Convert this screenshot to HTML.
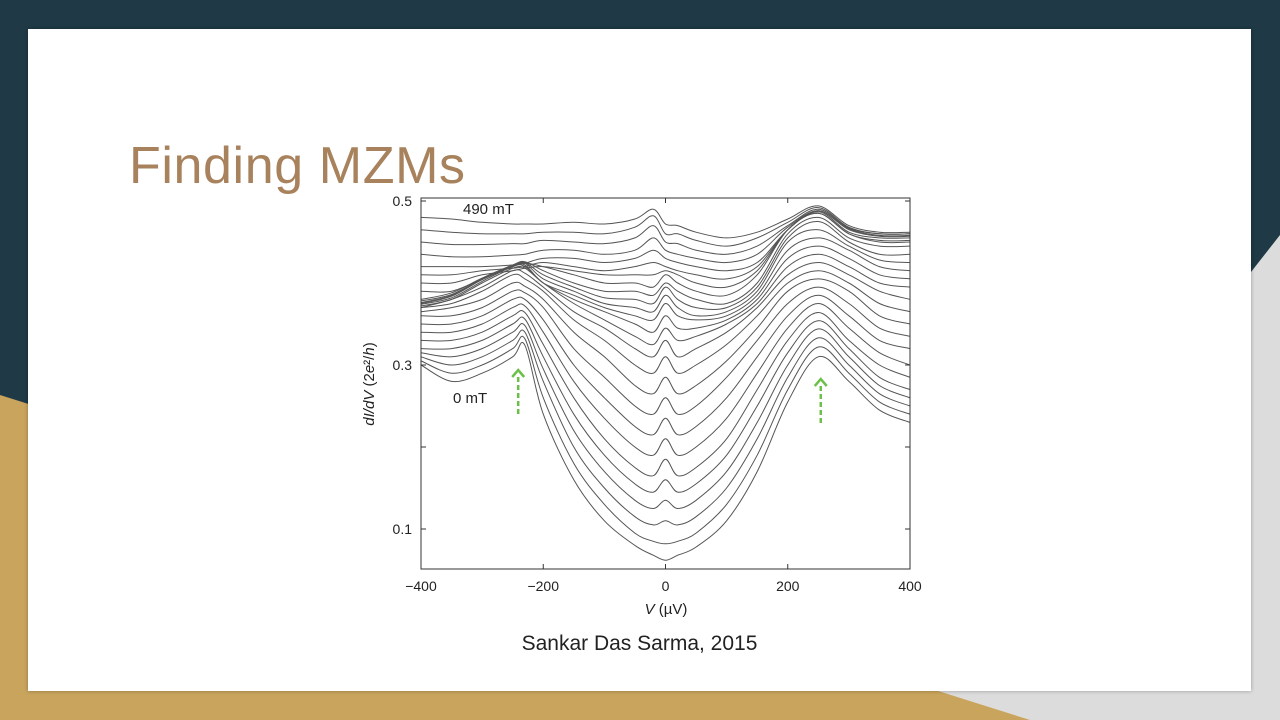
<!DOCTYPE html>
<html><head><meta charset="utf-8"><style>
html,body{margin:0;padding:0;width:1280px;height:720px;overflow:hidden;background:#1f3a46;font-family:"Liberation Sans",sans-serif}
#bg{position:absolute;left:0;top:0}
#card{position:absolute;left:28px;top:29px;width:1223px;height:662px;background:#fff;box-shadow:0 0 4px rgba(0,0,0,.3)}
#title{position:absolute;left:101px;top:107px;font-size:52px;color:#a8825c;letter-spacing:0.6px}
#caption{position:absolute;left:0;width:1223px;top:603px;text-align:center;font-size:21px;color:#222}
#chart{position:absolute;left:0;top:0}
</style></head><body>
<svg id="bg" width="1280" height="720">
<polygon points="1280,235 1280,720 900,720" fill="#dcdcdc"/>
<polygon points="0,395 1030,720 0,720" fill="#c9a45c"/>
</svg>
<div id="card">
<div id="title">Finding MZMs</div>
<div id="caption">Sankar Das Sarma, 2015</div>
</div>
<svg id="chart" width="1280" height="720"></svg>
<script>
const xValues=[-400,-350,-300,-250,-230,-200,-150,-100,-50,-20,0,20,50,100,150,200,250,300,350,400];
const xTicks=[-400,-200,0,200,400];
const yTicks=[0.5,0.3,0.1];
const yMinorTicks=[0.2];
const curve00=[0.30,0.28,0.29,0.31,0.324,0.24,0.16,0.11,0.08,0.068,0.062,0.068,0.078,0.11,0.17,0.255,0.31,0.28,0.245,0.23];
const curve01=[0.305,0.29,0.30,0.32,0.332,0.26,0.18,0.13,0.095,0.085,0.082,0.085,0.095,0.13,0.19,0.27,0.322,0.29,0.255,0.24];
const curve02=[0.31,0.30,0.31,0.33,0.34,0.28,0.20,0.15,0.115,0.105,0.11,0.105,0.115,0.15,0.21,0.285,0.333,0.30,0.265,0.25];
const curve03=[0.315,0.31,0.32,0.34,0.348,0.295,0.22,0.17,0.135,0.125,0.135,0.125,0.135,0.17,0.23,0.30,0.344,0.31,0.275,0.26];
const curve04=[0.32,0.32,0.33,0.35,0.356,0.31,0.24,0.19,0.155,0.145,0.16,0.145,0.155,0.19,0.25,0.315,0.354,0.32,0.285,0.27];
const curve05=[0.33,0.33,0.34,0.36,0.364,0.325,0.26,0.21,0.175,0.165,0.185,0.165,0.175,0.21,0.27,0.33,0.364,0.33,0.30,0.285];
const curve06=[0.34,0.34,0.35,0.37,0.372,0.34,0.28,0.235,0.20,0.19,0.21,0.19,0.20,0.235,0.29,0.345,0.375,0.345,0.315,0.30];
const curve07=[0.35,0.35,0.36,0.38,0.38,0.355,0.30,0.26,0.225,0.215,0.235,0.215,0.225,0.26,0.31,0.36,0.385,0.36,0.33,0.32];
const curve08=[0.36,0.36,0.37,0.39,0.388,0.37,0.32,0.285,0.25,0.24,0.26,0.24,0.25,0.285,0.33,0.375,0.395,0.375,0.345,0.335];
const curve09=[0.365,0.37,0.38,0.40,0.396,0.38,0.34,0.31,0.275,0.265,0.285,0.265,0.275,0.305,0.345,0.39,0.405,0.39,0.36,0.35];
const curve10=[0.37,0.375,0.39,0.41,0.405,0.39,0.355,0.33,0.30,0.29,0.31,0.29,0.30,0.325,0.36,0.40,0.415,0.40,0.375,0.365];
const curve11=[0.37,0.38,0.395,0.415,0.412,0.395,0.365,0.345,0.32,0.31,0.33,0.31,0.32,0.34,0.37,0.41,0.425,0.41,0.39,0.38];
const curve12=[0.372,0.38,0.40,0.418,0.418,0.40,0.375,0.355,0.335,0.325,0.345,0.33,0.335,0.35,0.375,0.42,0.435,0.42,0.40,0.395];
const curve13=[0.374,0.382,0.402,0.42,0.42,0.40,0.38,0.365,0.35,0.34,0.36,0.345,0.345,0.355,0.38,0.43,0.445,0.43,0.41,0.405];
const curve14=[0.375,0.384,0.404,0.42,0.422,0.40,0.385,0.37,0.36,0.355,0.375,0.36,0.355,0.36,0.385,0.44,0.455,0.44,0.42,0.415];
const curve15=[0.376,0.385,0.405,0.42,0.424,0.405,0.39,0.375,0.37,0.365,0.385,0.37,0.36,0.365,0.39,0.45,0.465,0.445,0.428,0.425];
const curve16=[0.378,0.386,0.405,0.421,0.425,0.41,0.395,0.382,0.38,0.375,0.395,0.38,0.37,0.37,0.395,0.455,0.475,0.45,0.435,0.435];
const curve17=[0.38,0.388,0.406,0.422,0.426,0.415,0.40,0.39,0.39,0.385,0.40,0.39,0.38,0.375,0.40,0.46,0.48,0.455,0.445,0.445];
const curve18=[0.39,0.39,0.405,0.42,0.424,0.42,0.41,0.40,0.40,0.395,0.41,0.40,0.39,0.385,0.41,0.465,0.485,0.46,0.45,0.45];
const curve19=[0.40,0.40,0.41,0.415,0.418,0.42,0.415,0.41,0.41,0.41,0.415,0.41,0.40,0.395,0.415,0.465,0.485,0.46,0.452,0.452];
const curve20=[0.41,0.41,0.415,0.418,0.42,0.425,0.42,0.415,0.42,0.425,0.42,0.415,0.41,0.405,0.42,0.465,0.487,0.462,0.455,0.455];
const curve21=[0.42,0.42,0.42,0.422,0.424,0.43,0.43,0.425,0.43,0.44,0.43,0.425,0.42,0.415,0.425,0.465,0.488,0.465,0.457,0.457];
const curve22=[0.435,0.432,0.432,0.434,0.435,0.44,0.44,0.435,0.44,0.455,0.44,0.435,0.43,0.425,0.435,0.468,0.488,0.466,0.458,0.458];
const curve23=[0.45,0.447,0.447,0.448,0.448,0.452,0.45,0.448,0.455,0.47,0.45,0.448,0.44,0.435,0.445,0.47,0.49,0.467,0.46,0.46];
const curve24=[0.465,0.462,0.46,0.46,0.46,0.462,0.462,0.46,0.468,0.482,0.46,0.46,0.452,0.445,0.455,0.474,0.492,0.468,0.46,0.46];
const curve25=[0.48,0.478,0.474,0.472,0.472,0.472,0.474,0.472,0.478,0.49,0.472,0.47,0.462,0.455,0.462,0.478,0.494,0.47,0.462,0.462];
const curves=[curve00,curve01,curve02,curve03,curve04,curve05,curve06,curve07,curve08,curve09,curve10,curve11,curve12,curve13,curve14,curve15,curve16,curve17,curve18,curve19,curve20,curve21,curve22,curve23,curve24,curve25];
const arrowX=[-241,254];

const NS='http://www.w3.org/2000/svg';
const svg=document.getElementById('chart');
const L=421,R=910,T=198,B=569;
const xs=v=>L+(v+400)/800*(R-L);
const ys=g=>201+(0.5-g)/0.4*328;
function mk(tag,attrs,parent){const e=document.createElementNS(NS,tag);for(const k in attrs)e.setAttribute(k,attrs[k]);(parent||svg).appendChild(e);return e;}
function smooth(pts){let d='M'+pts[0][0]+','+pts[0][1];for(let i=0;i<pts.length-1;i++){const p0=pts[i-1]||pts[i],p1=pts[i],p2=pts[i+1],p3=pts[i+2]||p2;const c1=[p1[0]+(p2[0]-p0[0])/6,p1[1]+(p2[1]-p0[1])/6],c2=[p2[0]-(p3[0]-p1[0])/6,p2[1]-(p3[1]-p1[1])/6];d+=`C${c1[0].toFixed(1)},${c1[1].toFixed(1)} ${c2[0].toFixed(1)},${c2[1].toFixed(1)} ${p2[0].toFixed(1)},${p2[1].toFixed(1)}`;}return d;}
const g=mk('g',{});


curves.forEach((c,i)=>{
  const p=mk('path',{d:smooth(c.map((v,j)=>[xs(xValues[j]),ys(v)])),fill:'none',stroke:'#555','stroke-width':'1'},g);
  
  
});
const frame=mk('rect',{x:L,y:T,width:R-L,height:B-T,fill:'none',stroke:'#333','stroke-width':'1'});


xTicks.forEach(v=>{
  mk('line',{x1:xs(v),x2:xs(v),y1:B,y2:B-5,stroke:'#333'});
  mk('line',{x1:xs(v),x2:xs(v),y1:T,y2:T+5,stroke:'#333'});
  const t=mk('text',{x:xs(v),y:B+22,'font-size':'14','text-anchor':'middle',fill:'#222'});
  t.textContent=(v<0?'\u2212'+(-v):v);
  
  
});
yTicks.concat(yMinorTicks).forEach(v=>{
  mk('line',{x1:L,x2:L+5,y1:ys(v),y2:ys(v),stroke:'#333'});
  mk('line',{x1:R,x2:R-5,y1:ys(v),y2:ys(v),stroke:'#333'});
});
yTicks.forEach(v=>{
  const t=mk('text',{x:L-9,y:ys(v)+5,'font-size':'14','text-anchor':'end',fill:'#222'});
  t.textContent=v.toFixed(1);
  
  
});
const xt=mk('text',{x:666,y:614,'font-size':'15','text-anchor':'middle',fill:'#222'});
xt.innerHTML='<tspan font-style="italic">V</tspan> (\u00b5V)';


const yt=mk('text',{x:0,y:0,'font-size':'15','text-anchor':'middle',fill:'#222',transform:'translate(374,384) rotate(-90)'});
yt.innerHTML='<tspan font-style="italic">dI/dV</tspan> (2<tspan font-style="italic">e</tspan>\u00b2/<tspan font-style="italic">h</tspan>)';


const a1=mk('text',{x:463,y:214,'font-size':'15',fill:'#222'});a1.textContent='490 mT';


const a2=mk('text',{x:453,y:403,'font-size':'15',fill:'#222'});a2.textContent='0 mT';


arrowX.forEach((v,i)=>{
  const x=xs(v), y0=i==0?414:423, y1=y0-44;
  const ag=mk('g',{});
  
  
  mk('line',{x1:x,x2:x,y1:y0,y2:y1+4,stroke:'#6cc04a','stroke-width':'2.5','stroke-dasharray':'5,3'},ag);
  mk('polyline',{points:`${x-6},${y1+7} ${x},${y1} ${x+6},${y1+7}`,fill:'none',stroke:'#6cc04a','stroke-width':'2.5'},ag);
});
</script>
</body></html>
